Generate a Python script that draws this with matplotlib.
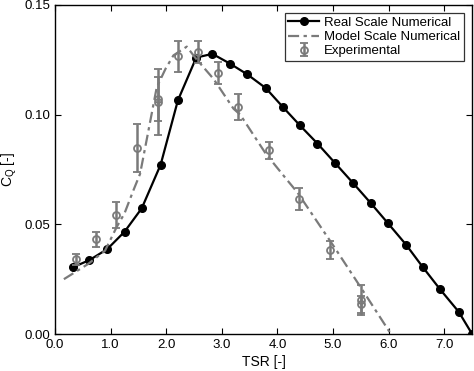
import numpy as np
import matplotlib.pyplot as plt

plt.rcParams['font.family'] = ['Liberation Sans', 'DejaVu Sans']

# real scale numerical (black, filled markers)
real_tsr = [0.32, 0.62, 0.94, 1.25, 1.56, 1.90, 2.21, 2.54, 2.83, 3.15, 3.46, 3.79,
            4.10, 4.40, 4.72, 5.03, 5.36, 5.68, 5.99, 6.31, 6.61, 6.92, 7.26, 7.5]
real_cq = [0.0304, 0.0337, 0.0387, 0.0466, 0.0573, 0.0772, 0.1065, 0.1260, 0.1277, 0.1232,
           0.1183, 0.1121, 0.1034, 0.0952, 0.0868, 0.0781, 0.0688, 0.0596, 0.0504, 0.0408,
           0.0306, 0.0205, 0.0101, 0.0]

# model scale numerical (grey dash-dot)
model_tsr = [0.16, 0.35, 0.6, 0.9, 1.11, 1.25, 1.41, 1.53, 1.65, 1.83, 1.99, 2.13, 2.37,
             2.52, 2.85, 3.21, 3.33, 3.79, 4.18, 4.36, 5.02, 5.53, 6.04]
model_cq = [0.025, 0.028, 0.032, 0.038, 0.0488, 0.055, 0.0655, 0.073, 0.0887, 0.1125, 0.121,
            0.127, 0.131, 0.126, 0.1163, 0.1027, 0.100, 0.0822, 0.070, 0.0645, 0.0397,
            0.020, 0.0]

# experimental (grey circles with error bars)
exp_tsr = [0.37, 0.73, 1.09, 1.47, 1.85, 1.85, 2.21, 2.57, 2.94, 3.29, 3.84, 4.38, 4.94, 5.51, 5.51]
exp_cq = [0.0341, 0.0432, 0.0541, 0.0848, 0.1057, 0.1070, 0.1265, 0.1285, 0.119, 0.1035,
          0.0837, 0.0614, 0.0382, 0.0155, 0.0135]
exp_err = [0.0025, 0.0035, 0.006, 0.011, 0.015, 0.010, 0.007, 0.005, 0.005, 0.006,
           0.004, 0.005, 0.004, 0.007, 0.004]

grey = '#7a7a7a'

fig = plt.figure(figsize=(4.74, 3.71), dpi=100)
ax = fig.add_axes([0.116, 0.0997, 0.880, 0.887])

ax.plot(real_tsr, real_cq, '-o', color='black', lw=1.6, ms=5.5,
        label='Real Scale Numerical')
ax.plot(model_tsr, model_cq, color=grey, lw=1.6, dashes=(5, 2, 1.5, 2),
        label='Model Scale Numerical')
ax.errorbar(exp_tsr, exp_cq, yerr=exp_err, fmt='o', color=grey, mfc='none',
            mew=1.3, ms=5, elinewidth=1.8, capsize=3, capthick=1.5,
            label='Experimental')

ax.set_xlim(0, 7.5)
ax.set_ylim(0, 0.15)
ax.set_xticks(np.arange(0, 7.5, 1.0))
ax.set_yticks([0.0, 0.05, 0.10, 0.15])
ax.set_xticklabels([f'{v:.1f}' for v in np.arange(0, 7.5, 1.0)])
ax.set_yticklabels(['0.00', '0.05', '0.10', '0.15'])
ax.tick_params(direction='in', top=True, right=True, labelsize=9.5, length=4)
for s in ax.spines.values():
    s.set_linewidth(1.0)

ax.set_xlabel('TSR [-]', fontsize=10, labelpad=3)
ax.set_ylabel('C$_\\mathregular{Q}$ [-]', fontsize=10, labelpad=4)

leg = ax.legend(loc='upper right', fontsize=9.5, frameon=True, fancybox=False,
                edgecolor='black', borderpad=0.3, labelspacing=0.15,
                handlelength=2.3, handletextpad=0.4, borderaxespad=0.6)
leg.get_frame().set_linewidth(0.9)

fig.savefig('out.png', dpi=100)
